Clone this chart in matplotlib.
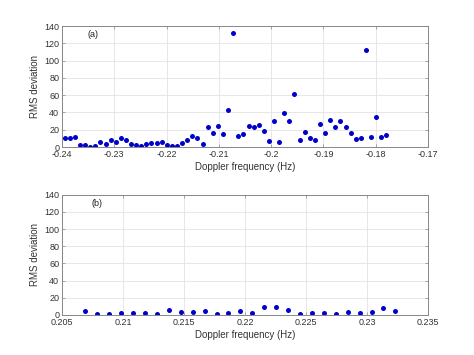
import matplotlib
matplotlib.use("Agg")
import matplotlib.pyplot as plt

plt.rcParams['font.family'] = ['Liberation Sans', 'DejaVu Sans']
plt.rcParams['axes.unicode_minus'] = False

# Panel (a): negative Doppler frequencies
freq_a = [-0.23950, -0.23852, -0.23755, -0.23657, -0.23559, -0.23462, -0.23364, -0.23266,
          -0.23168, -0.23071, -0.22973, -0.22875, -0.22778, -0.22680, -0.22582, -0.22485,
          -0.22387, -0.22289, -0.22191, -0.22094, -0.21996, -0.21898, -0.21801, -0.21703,
          -0.21605, -0.21508, -0.21410, -0.21312, -0.21214, -0.21117, -0.21019, -0.20921,
          -0.20824, -0.20726, -0.20628, -0.20531, -0.20433, -0.20335, -0.20237, -0.20140,
          -0.20042, -0.19944, -0.19847, -0.19749, -0.19651, -0.19554, -0.19456, -0.19358,
          -0.19260, -0.19163, -0.19065, -0.18967, -0.18870, -0.18772, -0.18674, -0.18577,
          -0.18479, -0.18381, -0.18283, -0.18186, -0.18088, -0.17990, -0.17893, -0.17795]
rms_a = [10, 10.8, 11.5, 2.3, 2, 0.4, 1, 5.4, 4, 7.7, 5.4, 10.4, 7.7, 3.5, 2, 1.5,
         3.5, 5, 5, 5.8, 2, 1.5, 0.8, 5, 8.5, 13, 10.4, 3.8, 22.7, 16.5, 23.8, 14.6,
         42.3, 132, 13, 14.6, 24.2, 22.7, 26, 18, 7, 30.4, 5.4, 39, 30, 60.8,
         7.7, 17, 10.4, 8.5, 26.5, 15.8, 31, 22.7, 30.4, 23.5, 16, 9.6, 10, 112,
         11.5, 34.6, 11.5, 13.8]

# Panel (b): positive Doppler frequencies
freq_b = [0.20692, 0.20790, 0.20887, 0.20985, 0.21083, 0.21180, 0.21278, 0.21376,
          0.21474, 0.21571, 0.21669, 0.21767, 0.21864, 0.21962, 0.22060, 0.22157,
          0.22255, 0.22353, 0.22451, 0.22548, 0.22646, 0.22744, 0.22841, 0.22939,
          0.23037, 0.23134, 0.23232]
rms_b = [4.6, 1.5, 1.5, 2.7, 2.7, 2.3, 1.5, 5.4, 3.8, 3.1, 4.2, 1.2, 2.7, 4.6,
         2.7, 9.6, 9.6, 6.2, 0.8, 1.9, 1.9, 1.5, 3.5, 1.9, 3.1, 8.5, 4.6]

xticks_a = [-0.24, -0.23, -0.22, -0.21, -0.2, -0.19, -0.18, -0.17]
xlabels_a = ['-0.24', '-0.23', '-0.22', '-0.21', '-0.2', '-0.19', '-0.18', '-0.17']
xticks_b = [0.205, 0.21, 0.215, 0.22, 0.225, 0.23, 0.235]
xlabels_b = ['0.205', '0.21', '0.215', '0.22', '0.225', '0.23', '0.235']
yticks = [0, 20, 40, 60, 80, 100, 120, 140]

fig = plt.figure(figsize=(4.74, 3.55), dpi=100)
ax_a = fig.add_axes([0.1308, 0.5859, 0.7722, 0.3408])
ax_b = fig.add_axes([0.1308, 0.1127, 0.7722, 0.3390])

fs = 6.5
marker_color = '#0000cc'
for ax, fx, fy, xt, xl, xlim, tag, tagx in [
        (ax_a, freq_a, rms_a, xticks_a, xlabels_a, (-0.24, -0.17), '(a)', -0.234),
        (ax_b, freq_b, rms_b, xticks_b, xlabels_b, (0.205, 0.235), '(b)', 0.2079)]:
    ax.plot(fx, fy, 'o', color=marker_color, markersize=3.6, markeredgewidth=0)
    ax.set_xlim(*xlim)
    ax.set_ylim(0, 140)
    ax.set_xticks(xt)
    ax.set_xticklabels(xl)
    ax.set_yticks(yticks)
    ax.grid(True, color='#e3e3e3', linewidth=0.6)
    ax.set_axisbelow(True)
    ax.tick_params(direction='in', length=2.5, width=0.5, top=True, right=True,
                   labelsize=fs, colors='#888888', labelcolor='#333333', pad=2)
    for s in ax.spines.values():
        s.set_color('#888888')
        s.set_linewidth(0.7)
    ax.set_xlabel('Doppler frequency (Hz)', fontsize=fs + 0.5, color='#333333', labelpad=2)
    ax.set_ylabel('RMS deviation', fontsize=fs + 0.5, color='#333333', labelpad=3)
    ax.text(tagx, 130, tag, fontsize=fs, color='#222222', va='center', ha='center')

fig.savefig('out.png', dpi=100)
